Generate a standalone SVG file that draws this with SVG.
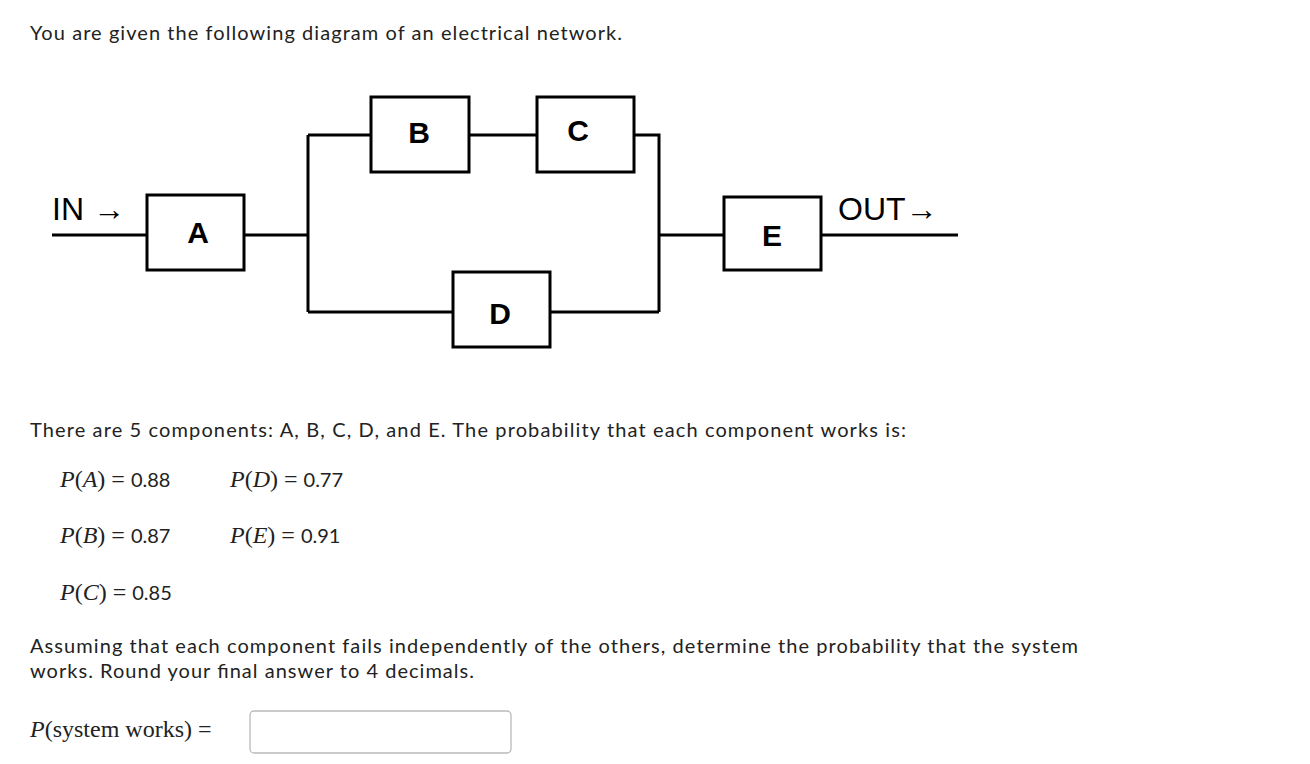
<svg xmlns="http://www.w3.org/2000/svg" width="1310" height="764" viewBox="0 0 1310 764">
<style>
.box{fill:#fff;stroke:#000;stroke-width:3}
.w{fill:none;stroke:#000;stroke-width:3}
.lbl{font-family:"Liberation Sans",Arial,sans-serif;font-weight:bold;font-size:30px;text-anchor:middle}
.io{font-family:"Liberation Sans",Arial,sans-serif;font-size:32px}
.t{font-family:Lato,"Open Sans",sans-serif;font-size:20px;fill:#222}
.m{font-family:"Liberation Serif","Times New Roman",serif;font-size:24px;fill:#222}
.n{font-family:Lato,"Open Sans",sans-serif;font-size:20px;fill:#222}
</style>
<rect width="1310" height="764" fill="#fff"/>
<text class="t" x="30" y="40" textLength="592">You are given the following diagram of an electrical network.</text>
<g id="connectors">
<path class="w" d="M52 235H147M244 235H308M308 135V312M308 135H371M469 135H537M634 135H659V312M308 312H453M550 312H659M659 235H724M821 235H958"/>
</g>
<text class="io" x="52" y="220">IN →</text>
<text class="io" x="838" y="220">OUT→</text>
<g id="A"><rect class="box" x="147" y="195" width="97" height="75"/><text class="lbl" x="198" y="243">A</text></g>
<g id="B"><rect class="box" x="371" y="97" width="98" height="75"/><text class="lbl" x="419" y="143">B</text></g>
<g id="C"><rect class="box" x="537" y="97" width="97" height="75"/><text class="lbl" x="578" y="141">C</text></g>
<g id="D"><rect class="box" x="453" y="272" width="97" height="75"/><text class="lbl" x="500" y="324">D</text></g>
<g id="E"><rect class="box" x="724" y="197" width="97" height="73"/><text class="lbl" x="772" y="246">E</text></g>
<text class="t" x="30" y="437" textLength="876">There are 5 components: A, B, C, D, and E. The probability that each component works is:</text>
<text x="60" y="487"><tspan class="m" font-style="italic">P</tspan><tspan class="m">(</tspan><tspan class="m" font-style="italic">A</tspan><tspan class="m">) = </tspan><tspan class="n">0.88</tspan></text>
<text x="230" y="487"><tspan class="m" font-style="italic">P</tspan><tspan class="m">(</tspan><tspan class="m" font-style="italic">D</tspan><tspan class="m">) = </tspan><tspan class="n">0.77</tspan></text>
<text x="60" y="543"><tspan class="m" font-style="italic">P</tspan><tspan class="m">(</tspan><tspan class="m" font-style="italic">B</tspan><tspan class="m">) = </tspan><tspan class="n">0.87</tspan></text>
<text x="230" y="543"><tspan class="m" font-style="italic">P</tspan><tspan class="m">(</tspan><tspan class="m" font-style="italic">E</tspan><tspan class="m">) = </tspan><tspan class="n">0.91</tspan></text>
<text x="60" y="600"><tspan class="m" font-style="italic">P</tspan><tspan class="m">(</tspan><tspan class="m" font-style="italic">C</tspan><tspan class="m">) = </tspan><tspan class="n">0.85</tspan></text>
<text class="t" x="30" y="653" textLength="1048">Assuming that each component fails independently of the others, determine the probability that the system</text>
<text class="t" x="30" y="678" textLength="444">works. Round your final answer to 4 decimals.</text>
<text x="30" y="737"><tspan class="m" font-style="italic">P</tspan><tspan class="m">(system works) =</tspan></text>
<rect x="250" y="711" width="261" height="42" rx="4" fill="#fff" stroke="#bbb" stroke-width="1.3"/>
</svg>
